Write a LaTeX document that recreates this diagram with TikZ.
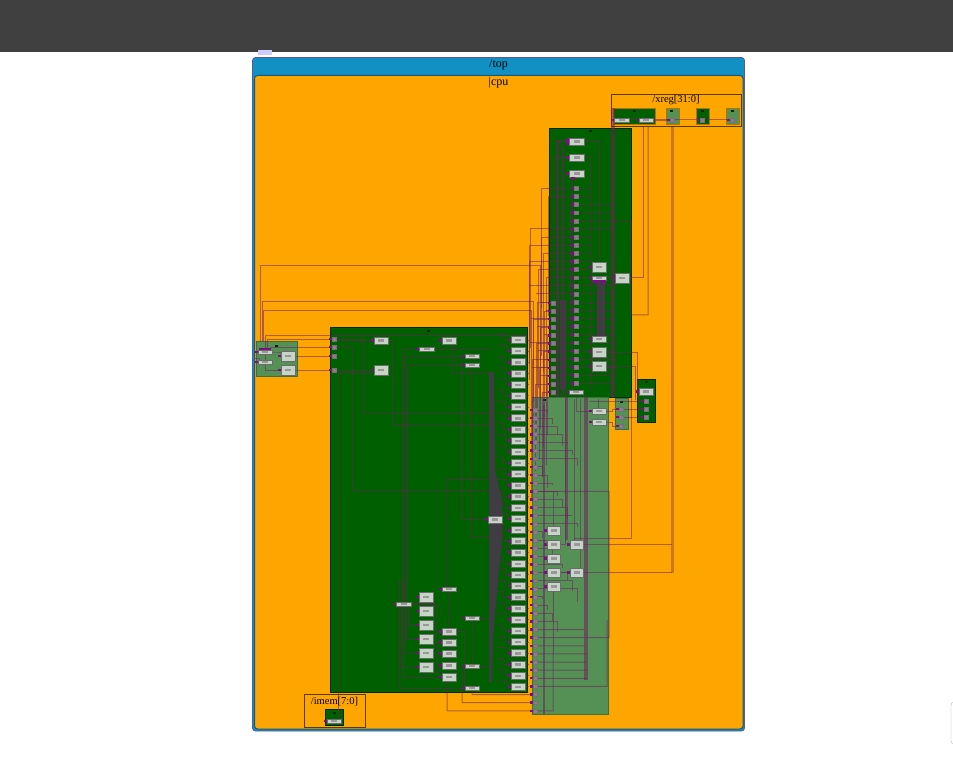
\documentclass[tikz,border=0pt]{standalone}
\usepackage{fontspec}
\setmainfont{Liberation Serif}
\pgfdeclarelayer{blocks}\pgfdeclarelayer{wires}
\pgfsetlayers{blocks,wires,main}
\definecolor{orange}{HTML}{FFA500}
\definecolor{dkgreen}{HTML}{005F00}
\definecolor{ltgreen}{HTML}{559155}
\definecolor{wirec}{HTML}{702060}
\definecolor{tipc}{HTML}{7A1080}
\definecolor{busc}{HTML}{403C44}
\definecolor{boxfill}{HTML}{C6D6C6}
\definecolor{dotfill}{HTML}{8C7C8C}
\tikzset{
 wire/.style={draw=wirec,draw opacity=.55,line width=1pt},
 fatwire/.style={draw=wirec,draw opacity=.55,line width=3.5pt},
 regbox/.style={draw=black!58,line width=.9pt,fill=boxfill,inner sep=0pt,
   path picture={\fill[wirec!45!gray,opacity=.5] ([xshift=-3pt,yshift=-1.2pt]path picture bounding box.center) rectangle ([xshift=3pt,yshift=1.2pt]path picture bounding box.center);}},
 dotn/.style={draw=black!55,line width=.4pt,fill=dotfill,minimum size=3.8pt,inner sep=0pt},
 greenblk/.style={draw=black!55!dkgreen,line width=.7pt,fill=dkgreen},
 lightblk/.style={draw=black!25!ltgreen,line width=.9pt,fill=ltgreen},
 frameblk/.style={draw=black!65!orange,line width=.9pt,fill=orange},
 ttl/.style={font=\fontsize{10.5}{12}\selectfont,inner sep=0pt},
 tip/.style={fill=tipc,draw=none}
}
\newcommand{\rb}[5]{% name, x1,y1,x2,y2
 \path let \n1={(#4)-(#2)},\n2={(#5)-(#3)} in node[regbox,minimum width=\n1*1pt,minimum height=\n2*1pt] (#1) at ({((#2)+(#4))/2},{((#3)+(#5))/2}) {};
 \fill[tip] ([xshift=-2.5pt,yshift=-1.3pt]#1.west) rectangle ([yshift=1.3pt]#1.west);}
\newcommand{\dt}[3]{% name,x,y
 \node[dotn] (#1) at (#2,#3) {};
 \fill[tip] ([xshift=-2.5pt,yshift=-1.2pt]#1.west) rectangle ([yshift=1.2pt]#1.west);}
\usetikzlibrary{calc}
\begin{document}
\begin{tikzpicture}[x=1pt,y=-1pt]
\useasboundingbox (0,0) rectangle (953,759);
\begin{pgfonlayer}{blocks}
\fill[white] (0,0) rectangle (953,759);
\fill[black!75] (0,0) rectangle (953,52);
\fill[blue!20!white] (258,50) rectangle (272,55);
\draw[draw=black!30,fill=white,rounded corners=3pt] (951,702) rectangle (960,744);
\draw[fill={rgb,255:red,17;green,144;blue,196},draw=black!20!blue!30!gray,line width=.8pt,rounded corners=3pt] (252.5,57.5) rectangle (744.5,731);
\draw[fill=orange,draw={rgb,255:red,20;green,90;blue,120},line width=1pt,rounded corners=3pt] (254.5,75.5) rectangle (743,729);
\draw[frameblk] (611,94) rectangle (741,126);
\draw[greenblk,draw=orange!70!black] (613,108.5) rectangle (655,124.5);
\draw[lightblk,draw=orange!70!black] (666,108.5) rectangle (679,124.5);
\draw[greenblk,draw=orange!70!black] (696,108.5) rectangle (709,124.5);
\draw[lightblk,draw=orange!70!black] (726,108.5) rectangle (739,124.5);
\draw[greenblk] (549.5,128) rectangle (631,397);
\draw[lightblk] (256,341.5) rectangle (297,376);
\draw[greenblk] (330.5,327.5) rectangle (527,692.5);
\draw[lightblk] (532.5,397.5) rectangle (608,714);
\draw[lightblk] (615.5,398) rectangle (628,429.5);
\draw[greenblk] (637.5,379) rectangle (655,422);
\draw[frameblk] (304.5,694.5) rectangle (365,727);
\draw[greenblk] (325,709.5) rectangle (343,725);
\foreach \a/\b in {428/331,590/131,671/111,702/111,732/111,634/111,276/346,544/400,621/402,646/382,334/713}
  \fill[black!60!dkgreen] (\a-1.5,\b-1.2) rectangle (\a+1.5,\b+1.2);
\end{pgfonlayer}
\node[ttl,font=\fontsize{12}{14}\selectfont] (top) at (498.5,65) {/top};
\node[ttl,font=\fontsize{12}{14}\selectfont] (cpu) at (498.5,83) {|cpu};
\node[ttl] (xr) at (676,100) {/xreg[31:0]};
\node[ttl] (im) at (334.5,702) {/imem[7:0]};
% register column
\foreach \i in {1,...,32}{ \pgfmathsetmacro{\yy}{340+11.19*(\i-1)} \rb{R\i}{511}{\yy-3.5}{525}{\yy+3.5} }
% central boxes
\rb{A1}{374}{337}{388}{344} \rb{A2}{374}{365}{388}{375} \rb{A3}{442}{337}{456}{344}
\rb{A4}{419}{347}{434}{351} \rb{A5}{465}{354}{479}{358} \rb{A6}{465}{363}{479}{367}
\rb{C}{488}{516}{502}{523}
\rb{B1}{419}{592}{433}{602} \rb{B2}{419}{606}{433}{616} \rb{B3}{419}{620}{433}{630}
\rb{B4}{419}{634}{433}{644} \rb{B5}{419}{648}{433}{658} \rb{B6}{419}{662}{433}{672}
\rb{B7}{396}{602}{411}{606}
\rb{D1}{442}{587}{456}{591} \rb{D2}{442}{628}{456}{635} \rb{D3}{442}{639}{456}{646}
\rb{D4}{442}{650}{456}{657} \rb{D5}{442}{662}{456}{669} \rb{D6}{442}{673}{456}{681}
\rb{E1}{465}{616}{479}{620} \rb{E2}{465}{664}{479}{668} \rb{E3}{465}{686}{479}{690}
% left block
\rb{LA}{258}{350}{272}{354} \rb{LB}{258}{360}{272}{364} \rb{LC}{281}{351}{295}{361} \rb{LD}{281}{365}{295}{375}
\fill[tipc] (259,347.5) rectangle (271,350);
\foreach \n/\y in {1/339,2/347,3/356,4/370}{\dt{I\n}{334}{\y}}
% lower block
\foreach \i in {1,...,38}{ \pgfmathsetmacro{\yy}{410+8.13*(\i-1)} \dt{L\i}{535}{\yy} }
\rb{M1}{547}{526}{560}{535} \rb{M2}{547}{540}{560}{549} \rb{M3}{547}{554}{560}{563} \rb{M4}{547}{568}{560}{577} \rb{M5}{547}{582}{560}{591}
\rb{N1}{570}{540}{583}{549} \rb{N2}{570}{568}{583}{577}
\rb{P1}{592}{408}{606}{414} \rb{P2}{592}{419}{606}{425}
% upper block
\rb{U1}{569}{138}{584}{145} \rb{U2}{569}{154}{584}{161} \rb{U3}{569}{170}{584}{177}
\fill[tipc] (566,138) rectangle (569,145);
\fill[tipc] (571,177) rectangle (575,180);
\foreach \i in {1,...,25}{ \pgfmathsetmacro{\yy}{188.3+8.13*(\i-1)} \dt{V\i}{576}{\yy} }
\foreach \i in {1,...,12}{ \pgfmathsetmacro{\yy}{303+8.1*(\i-1)} \dt{W\i}{553}{\yy} }
\rb{Q1}{592}{262}{606}{272} \rb{Q2}{592}{276}{606}{280} \rb{Q3}{615}{273}{629}{283}
\fill[tipc] (592,280) rectangle (606,283);
\rb{Q4}{592}{336}{606}{342} \rb{Q5}{592}{347}{606}{357} \rb{Q6}{592}{361}{606}{371}
\rb{Q7}{569}{390}{583}{394}
% small blocks
\rb{S1}{639}{388}{653}{395}
\foreach \n/\y in {1/401,2/409,3/417}{\dt{S\n d}{646}{\y}}
\foreach \n/\y in {1/409,2/417,3/426}{\dt{T\n}{621}{\y}}
% xreg
\rb{X1}{614}{118}{629}{122} \rb{X2}{639}{118}{653}{122}
\dt{Y1}{672}{120} \dt{Y2}{702}{120} \dt{Y3}{732}{120}
\rb{Z}{327}{719}{341}{723}
\begin{pgfonlayer}{wires}
\fill[busc] (489,372) -- (494,372) -- (495,470) -- (502,500) -- (502,540) -- (498,580) -- (493,640) -- (492,682) -- (489,682) -- cycle;
\fill[busc] (597,280) rectangle (605,336);
\fill[busc!80!dkgreen] (560,300) rectangle (566,390);
% long loops over the orange
\draw[wire] (260,341) -- (260,266) -- (540,266) -- (540,400);
\draw[wire] (262,341) -- (262,302) -- (533,302) -- (533,402);
\draw[wire] (263.5,341) -- (263.5,310.7) -- (531,310.7) -- (531,500);
\draw[wire] (265,348) -- (265,335) -- (527,335);
\draw[wire] (267,348) -- (267,339) -- (I1.west);
\draw[wire] (270,348) -- (270,347) -- (I2.west);
\draw[wire] (LC.east |- I3) -- (I3.west);
\draw[wire] (LD.east |- I4) -- (I4.west);
\draw[wire] (265,354) -- (265,370) -- (LD.west);
\draw[wire] (LA.east) -| (278,352) -- (LC.west |- 278,352);
\draw[wire] (255,358) -- (259,358) -- (259,362) -- (LB.west);
% central block
\draw[wire] (I1.east) -- (363,339) -- (363,413) -- (489,413);
\draw[wire] (338,340.5) -- (A1.west);
\draw[wire] (I2.east) -- (352,347) -- (352,490) -- (489,490);
\draw[wire] (I4.east) -- (A2.west);
\draw[wire] (338,373) -- (374,373);
\draw[wire] (338,373) -- (338,692);
\draw[wire] (A1.east) -- (392,340.5) -- (392,425) -- (489,425);
\draw[wire] (452,344) -- (452,373) -- (489,373);
\draw[wire] (A4.east) -- (490,349);
\draw[wire] (A4.west) -- (402,349) -- (402,601);
\draw[wire] (A5.west) -- (405,356) -- (405,601);
\draw[wire] (A6.west) -- (407,365) -- (407,601);
\draw[wire] (461,356) -- (461,519.5) -- (C.west);
\draw[wire] (470,365) -- (470,537) -- (489,537);
\draw[wire] (446,479) -- (489,479);
\draw[wire] (446,479) -- (446,587);
\draw[wire] (403,580) -- (403,677) -- (D6.west);
\draw[wire] (399,580) -- (399,688) -- (E3.west);
\draw[wire] (408,606) -- (408,625) -- (B3.west);
\draw[wire] (406,606) -- (406,639) -- (B4.west);
\draw[wire] (405,606) -- (405,653) -- (B5.west);
\draw[wire] (401,606) -- (401,667) -- (B6.west);
\draw[wire,line width=2pt] (B7.east) -- (436,604);
\draw[wire] (436,604) -- (436,673) -- (442,673);
\draw[wire] (D1.south) -- (D5.north);
\draw[wire] (E1.south) -- (E2.north);
\draw[wire] (D2.east) -- (464,631.5) -- (464,688);
\draw[wire] (E1.east) -- (488,618);
\draw[wire] (E2.east) -- (488,666);
\foreach \i in {1,...,32}{\pgfmathsetmacro{\xx}{503+mod(\i,3)*2}\draw[wire] (R\i.west) -- (\xx,\i*11.19+328.8) -- (\xx,\i*11.19+323) -- (497,\i*11.19+323);}
% upper block wires
\draw[fatwire,line width=3pt] (557,140) -- (557,397);
\draw[fatwire,line width=2.5pt] (563,145) -- (563,397);
\draw[fatwire] (613,108) -- (613,397);
\draw[wire,line width=2pt] (557,141) -- (U1.west);
\draw[wire] (U1.east) -- (599,141.5) -- (599,262);
\draw[wire] (U2.east) -- (590,157.5) -- (590,390);
\draw[wire] (U2.west) -- (553,157.5) -- (553,300);
\draw[wire] (572,177) -- (572,390);
\foreach \i/\xx in {1/590,2/590,3/613,4/613,6/613,7/590,8/590,9/590,10/590,11/590,12/613,13/613,14/613,15/613,16/613,17/613,18/613,19/613,20/613,21/613,22/613,23/613,24/613,25/613}
  \draw[wire] (V\i.east) -- (\xx,{188.3+8.13*(\i-1)});
\draw[wire] (V5.east) -- (631,220.8) -- (631,315) -- (648,315) -- (648,126);
\draw[wire] (Q3.east) -- (643,278) -- (643,126);
\foreach \i/\xx in {1/541,2/548,3/570,4/570,6/530,7/541,8/529,9/543,10/529,11/538,12/546}
  \draw[wire] (V\i.west) -- (\xx,{188.3+8.13*(\i-1)}) -- (\xx,{300+\i*8});
\foreach \i/\xx in {13/529,14/536,15/542,16/546,17/531,18/537,19/544,20/530,21/538,22/545,23/532,24/540,25/547}
  \draw[wire] (V\i.west) -- (\xx,{188.3+8.13*(\i-1)});
\foreach \i in {1,...,12}{\pgfmathsetmacro{\xx}{530+mod(\i*7,18)}\draw[wire] (W\i.west) -- (\xx,{303+8.1*(\i-1)}) -- (\xx,{405+\i*6});}
\draw[wire] (Q7.south) |- (P1.west);
\draw[wire] (Q5.east) -- (637,352) -- (637,398);
\draw[wire] (Q6.east) -- (635,366) -- (635,400);
\draw[wire] (631,397) -- (631,538) -- (574,538) -- (574,540);
\draw[draw=wirec,draw opacity=.35,line width=3pt] (672,126) -- (672,573);
\draw[wire] (672,544.5) -- (N1.east);
\draw[wire] (672,572.5) -- (N2.east);
\draw[wire] (P1.east) -- (612,411) -- (612,409) -- (T1.west);
\draw[wire] (P2.east) -- (612,422) -- (612,426) -- (T3.west);
\draw[wire] (T1.east) -- (S2d.west);
\draw[wire] (T2.east) -- (S3d.west);
\draw[wire] (S1d.west) -- (590,401);
\draw[wire] (S1.south) -- (S1d.north);
\draw[wire] (X1.east) -- (X2.west);
\draw[wire,line width=1.5pt] (X2.east) -- (Y1.west);
\draw[wire] (Y1.east) -- (Y3.west);
% lower block wires
\draw[fatwire,line width=3pt] (566,397) -- (566,540);
\draw[fatwire,line width=4pt] (586,397) -- (586,680);
\draw[fatwire,line width=1.5pt] (544,405) -- (544,714);
\draw[wire] (L29.east) -- (609,637.6) -- (609,491.3) -- (L11.east);
\draw[wire] (L28.east) -- (584,629.5);
\draw[wire] (L30.east) -- (585,645.8);
\draw[wire] (L31.east) -- (586,653.9);
\draw[wire] (L32.east) -- (586,662);
\draw[wire] (L33.east) -- (587,670);
\draw[wire] (L34.east) -- (587,678.3);
\draw[wire] (L35.east) -- (607,686.4) -- (607,620);
\draw[wire] (L36.west) -- (472,694.6) -- (E3.south);
\draw[wire] (L37.west) -- (462,702.7) -- (462,666) -- (E2.west);
\draw[wire] (L38.west) -- (447,710.8) -- (447,681);
\draw[wire] (L38.east) -- (553,710.8) -- (M5.south);
\foreach \i in {1,...,27}{\pgfmathsetmacro{\yy}{410+8.13*(\i-1)}\pgfmathsetmacro{\xx}{542+mod(\i*5,40)}\pgfmathsetmacro{\zz}{\yy+mod(\i*3,14)}\draw[wire] (L\i.east) -- (\xx,\yy) -- (\xx,\zz);}
\foreach \i in {1,...,27}{\pgfmathsetmacro{\yy}{410+8.13*(\i-1)}\draw[wire] (L\i.west) -- (530,\yy);}
\draw[wire] (553,491) -- (553,526);
\draw[wire] (565,399) -- (565,544.5) -- (M2.east);
\draw[wire] (M4.east) -- (N2.west);
\draw[wire] (574,399) -- (574,540);
\draw[wire] (580,399) -- (580,568);
\draw[wire] (598,399) -- (598,408);
\foreach \i in {1,...,32}{\pgfmathsetmacro{\yy}{340+11.19*(\i-1)}\draw[wire] (R\i.east) -- (529,\yy);}
\draw[wire] (338,692) -- (338,719);
\end{pgfonlayer}
\end{tikzpicture}
\end{document}
